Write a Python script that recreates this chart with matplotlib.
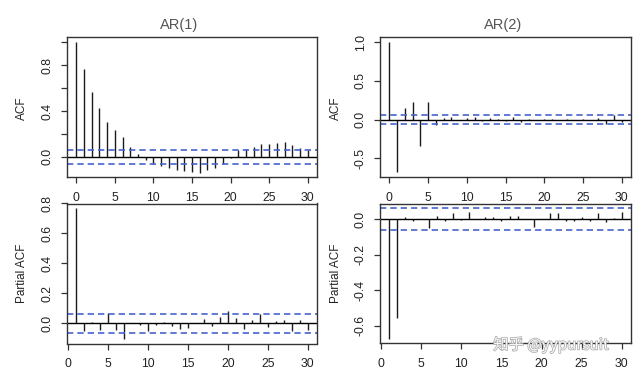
import matplotlib
matplotlib.use("Agg")
import matplotlib.pyplot as plt
import matplotlib.patheffects as pe
from matplotlib import font_manager

# ---------------- data ----------------
acf_lags = list(range(0, 31))
pacf_lags = list(range(1, 31))

ar1_acf = [1.0, 0.765, 0.568, 0.423, 0.301, 0.235, 0.177, 0.084, 0.029, -0.023,
           -0.061, -0.081, -0.100, -0.110, -0.120, -0.133, -0.136, -0.116, -0.096, -0.064,
           -0.008, 0.058, 0.072, 0.090, 0.113, 0.116, 0.125, 0.128, 0.100, 0.081, 0.058]

ar2_acf = [1.0, -0.674, 0.147, 0.233, -0.336, 0.224, -0.070, 0.020, 0.040, -0.010,
           0.020, 0.030, -0.020, 0.020, 0.010, -0.020, 0.040, -0.025, 0.010, -0.010,
           0.010, 0.010, -0.010, 0.010, -0.010, 0.010, -0.010, 0.020, -0.055, 0.065, -0.025]

ar1_pacf = [0.767, -0.053, 0.011, -0.042, 0.071, -0.042, -0.104, 0.005, -0.011, -0.053,
            -0.009, 0.007, -0.015, -0.038, -0.031, 0.002, 0.029, -0.020, 0.044, 0.084,
            0.038, -0.038, 0.024, 0.062, -0.022, 0.013, 0.022, -0.053, 0.024, -0.044]

ar2_pacf = [-0.674, -0.557, 0.011, -0.009, 0.003, -0.049, 0.022, -0.011, 0.037, -0.006,
            0.041, 0.003, 0.013, 0.015, -0.011, 0.022, 0.022, 0.004, -0.045, 0.003,
            0.037, 0.034, -0.011, -0.011, 0.011, -0.011, 0.034, -0.015, 0.010, 0.041]

conf_bound = 0.062
titles = ["AR(1)", "AR(2)"]
ylabels = ["ACF", "Partial ACF"]
xticks = [0, 5, 10, 15, 20, 25, 30]

# ---------------- fonts ----------------
avail = {f.name for f in font_manager.fontManager.ttflist}
fam = [f for f in ["Liberation Sans Narrow", "Liberation Sans", "DejaVu Sans"] if f in avail]
plt.rcParams['font.family'] = fam

W, H = 641, 377
fig = plt.figure(figsize=(W / 100, H / 100), dpi=100)
fig.patch.set_facecolor("white")


def box(x0, y0, x1, y1):
    return [x0 / W, 1 - y1 / H, (x1 - x0) / W, (y1 - y0) / H]


BAR = "#1a1a1a"
BLUE = "#4763cc"
TXT = "#222222"


def panel(rect, lags, vals, xlim, ylim, yticks, ylabels_shown, ylab, ylab_x, ylab_y):
    ax = fig.add_axes(rect)
    ax.vlines(lags, 0, vals, color=BAR, lw=1.0)
    ax.axhline(0, color="black", lw=1.0)
    for s in (conf_bound, -conf_bound):
        ax.axhline(s, color=BLUE, lw=1.2, dashes=(3.8, 2.4))
    ax.set_xlim(*xlim)
    ax.set_ylim(*ylim)
    ax.set_xticks(xticks)
    ax.set_xticklabels([str(t) for t in xticks])
    ax.set_yticks(yticks)
    ax.set_yticklabels(ylabels_shown, rotation=90, va="center")
    ax.tick_params(direction="out", length=4.5, width=0.9, color="#333333",
                   labelsize=8.8, labelcolor=TXT)
    ax.tick_params(axis="x", pad=6)
    ax.tick_params(axis="y", pad=5)
    for sp in ax.spines.values():
        sp.set_color("#333333")
        sp.set_linewidth(1.0)
    fig.text(ylab_x / W, 1 - ylab_y / H, ylab, rotation=90, ha="center", va="center",
             fontsize=8.5, color=TXT)
    return ax


# top-left: AR(1) ACF
panel(box(67, 37, 317, 177), acf_lags, ar1_acf, (-1.2, 31.2), (-0.175, 1.046),
      [0, 0.2, 0.4, 0.6, 0.8, 1.0], ["0.0", "", "0.4", "", "0.8", ""],
      ylabels[0], 22, 108)
# top-right: AR(2) ACF
panel(box(380, 37, 631, 177), acf_lags, ar2_acf, (-1.2, 31.2), (-0.74, 1.068),
      [-0.5, 0, 0.5, 1.0], ["-0.5", "0.0", "0.5", "1.0"],
      ylabels[0], 336, 108)
# bottom-left: AR(1) PACF
panel(box(67, 203.5, 317, 343.5), pacf_lags, ar1_pacf, (-0.16, 31.16), (-0.135, 0.80),
      [0, 0.2, 0.4, 0.6, 0.8], ["0.0", "0.2", "0.4", "0.6", "0.8"],
      ylabels[1], 22, 273)
# bottom-right: AR(2) PACF
panel(box(380, 203.5, 631, 343), pacf_lags, ar2_pacf, (-0.16, 31.16), (-0.698, 0.09),
      [-0.6, -0.4, -0.2, 0.0], ["-0.6", "-0.4", "-0.2", "0.0"],
      ylabels[1], 336, 273)

fig.text(179 / W, 1 - 25 / H, titles[0], ha="center", va="center", fontsize=10.5,
         color="#555555")
fig.text(503 / W, 1 - 25 / H, titles[1], ha="center", va="center", fontsize=10.5,
         color="#555555")

fig.text(551 / W, 1 - 345 / H, "知乎 @yypursuit", ha="center", va="center",
         fontsize=11, color="#f6f6f6", family=["Noto Sans CJK SC", "DejaVu Sans"],
         path_effects=[pe.withStroke(linewidth=1.0, foreground="#a8a8a8")])

fig.savefig("out.png", dpi=100)
